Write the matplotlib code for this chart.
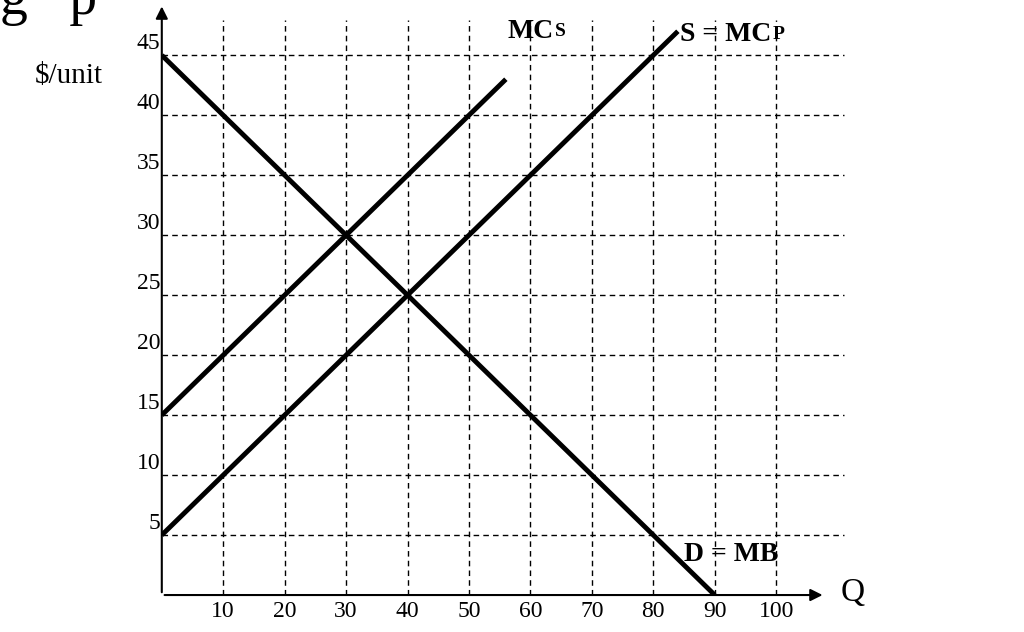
import matplotlib
matplotlib.use("Agg")
import matplotlib.pyplot as plt
import numpy as np

plt.rcParams['font.family'] = ['Liberation Serif', 'DejaVu Serif']

x_ticks = [10, 20, 30, 40, 50, 60, 70, 80, 90, 100]
y_ticks = [5, 10, 15, 20, 25, 30, 35, 40, 45]
demand_q = [0, 90]; demand_p = [45, 0]
mcs_q = [0, 56]; mcs_p = [15, 43]
supply_q = [0, 84]; supply_p = [5, 47]

fig = plt.figure(figsize=(10.24, 6.32), dpi=100)
ax = fig.add_axes([0.158, 0.0585, 0.66, 0.93])
ax.set_xlim(0, 110); ax.set_ylim(0, 49)
ax.axis('off')

for xv in x_ticks:
    ax.plot([xv, xv], [0, 47.9], ls=(0, (4, 3)), color='k', lw=1)
    ax.text(xv, -0.5, str(xv), ha='center', va='top', fontsize=17)
for yv in y_ticks:
    ax.plot([0, 111], [yv, yv], ls=(0, (4, 3)), color='k', lw=1, clip_on=False)
    ax.text(-0.2, yv + 0.1, str(yv), ha='right', va='bottom', fontsize=17)

ax.annotate('', xy=(108, 0), xytext=(0, 0),
            arrowprops=dict(arrowstyle='-|>', color='k', lw=1.5, mutation_scale=18))
ax.annotate('', xy=(0, 49.3), xytext=(0, 0),
            arrowprops=dict(arrowstyle='-|>', color='k', lw=1.5, mutation_scale=18),
            annotation_clip=False)

ax.plot(demand_q, demand_p, color='k', lw=3.5, solid_capstyle='butt')
ax.plot(mcs_q, mcs_p, color='k', lw=3.5, solid_capstyle='butt')
ax.plot(supply_q, supply_p, color='k', lw=3.5, solid_capstyle='butt')

t1 = ax.text(56.3, 45.9, 'MC', fontsize=20, fontweight='bold', va='bottom')
ax.annotate('S', xy=(1, 0), xycoords=t1, xytext=(1, 3), textcoords='offset points',
            fontsize=14, fontweight='bold', va='bottom')
t2 = ax.text(84.3, 45.7, 'S = MC', fontsize=20, fontweight='bold', va='bottom')
ax.annotate('P', xy=(1, 0), xytext=(1, 3), xycoords=t2, textcoords='offset points',
            fontsize=14, fontweight='bold', va='bottom')
ax.text(85.0, 2.3, 'D = MB', fontsize=20, fontweight='bold', va='bottom')
ax.text(110.5, 0.2, 'Q', fontsize=24, va='center')
fig.text(0.034, 0.88, '$/unit', fontsize=21, va='center')
fig.text(0.0, 1.0, 'g   p', fontsize=40, va='center')

fig.savefig('out.png', dpi=100)
